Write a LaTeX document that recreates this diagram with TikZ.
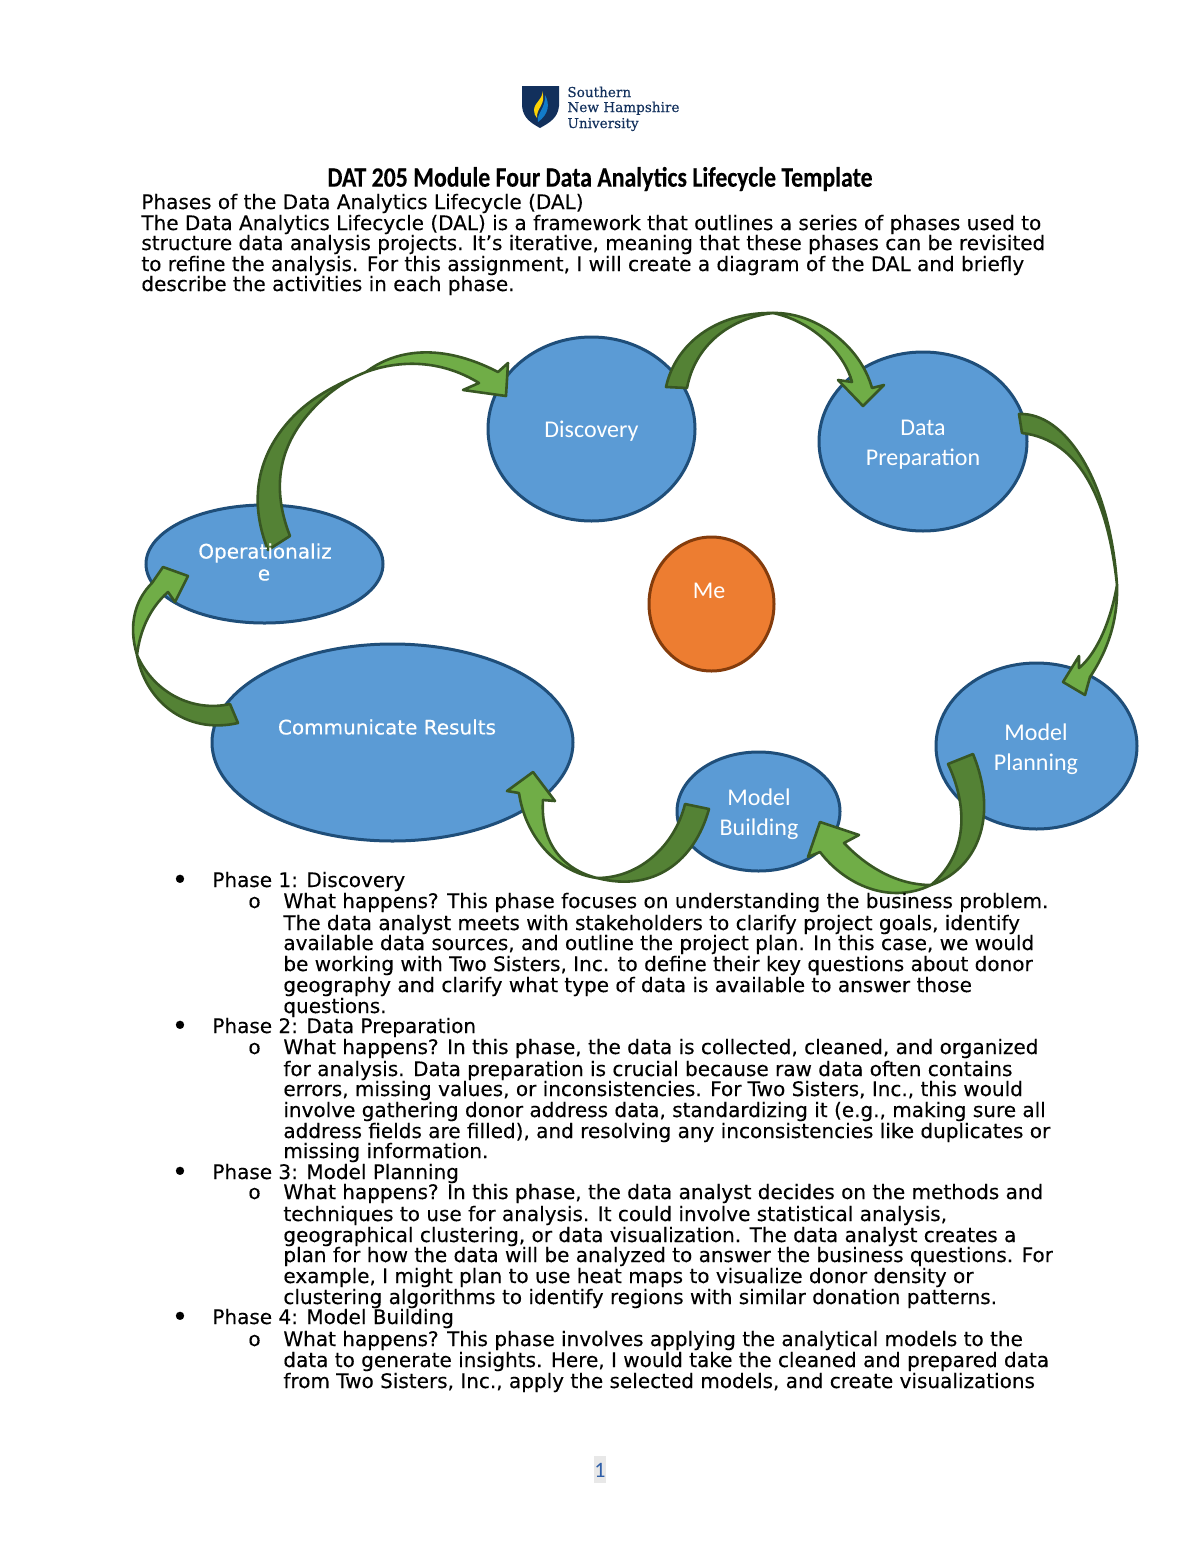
\documentclass[tikz,border=0pt]{standalone}
\usepackage{fontspec}
\setmainfont[FakeBold=0.25]{DejaVu Sans}
\newfontfamily\carlito{Carlito}
\newfontfamily\titlefont[FakeStretch=0.85,FakeBold=0.15]{Carlito Bold}
\newfontfamily\logofont[FakeBold=0.3]{DejaVu Serif}
\usetikzlibrary{shapes.geometric}

\definecolor{phaseblue}{HTML}{5B9BD5}
\definecolor{phaseedge}{HTML}{1F4E79}
\definecolor{meorange}{HTML}{ED7D31}
\definecolor{meedge}{HTML}{843C0C}
\definecolor{banddark}{HTML}{548235}
\definecolor{bandlight}{HTML}{70AD47}
\definecolor{bandedge}{HTML}{385723}
\definecolor{shieldnavy}{HTML}{12305C}
\definecolor{pagegray}{HTML}{E8E8E8}
\definecolor{pageblue}{HTML}{2F5FA8}

\tikzset{
  phase/.style={ellipse,draw=phaseedge,fill=phaseblue,line width=1.5pt,inner sep=0pt},
  dband/.style={draw=bandedge,fill=banddark,line width=1.3pt,line join=round},
  lband/.style={draw=bandedge,fill=bandlight,line width=1.3pt,line join=round},
  ltxt/.style={text=white,font=\carlito\fontsize{12}{12}\selectfont},
  wtxt/.style={text=white,font=\fontsize{10}{10}\selectfont},
  body/.style={anchor=base west,inner sep=0pt,font=\fontsize{10}{10}\selectfont},
  bullet/.style={inner sep=0pt,font=\fontsize{14}{14}\selectfont},
  logotxt/.style={anchor=base west,inner sep=0pt,text=shieldnavy,font=\logofont\fontsize{6.8}{6.8}\selectfont}
}

\begin{document}
\begin{tikzpicture}[x=0.5pt,y=-0.5pt]
\useasboundingbox (0,0) rectangle (1200,1553);

% logo
\fill[shieldnavy] (522,86) -- (559,86) -- (559,106) .. controls (558,118) and (549,123) .. (540,128) .. controls (531,123) and (523,118) .. (522,106) -- cycle;
\fill[yellow!70!orange] (542,91) .. controls (544,98) and (534,103) .. (534,110) .. controls (534,113) and (535,116) .. (537,118) .. controls (536,108) and (547,104) .. (542,91) -- cycle;
\fill[cyan!60!blue] (545,95) .. controls (550,104) and (549,114) .. (538,122) .. controls (536,114) and (546,108) .. (545,95) -- cycle;
\node[logotxt] (logoa) at (567,97) {Southern};
\node[logotxt] (logob) at (567,112) {New Hampshire};
\node[logotxt] (logoc) at (567,128) {University};

% phases
\node[phase,minimum width=103.5pt,minimum height=92pt] (disc) at (591.5,429) {};
\node[phase,minimum width=104pt,minimum height=89.5pt] (prep) at (923,441.5) {};
\node[phase,minimum width=100.5pt,minimum height=83pt] (plan) at (1036.5,746) {};
\node[phase,minimum width=81.5pt,minimum height=59.5pt] (build) at (758.5,811.5) {};
\node[phase,minimum width=180.5pt,minimum height=98.5pt] (comm) at (392.5,742.5) {};
\node[phase,minimum width=118.5pt,minimum height=59pt] (oper) at (264.5,564) {};
\node[phase,draw=meedge,fill=meorange,minimum width=62.5pt,minimum height=67pt] (me) at (711.5,604) {};

% Operationalize to Discovery
\filldraw[dband] (268,550) .. controls (248,500) and (258,455) .. (290,420) .. controls (310,398) and (335,385) .. (366,372) .. controls (345,380) and (325,395) .. (310,412) .. controls (285,440) and (268,480) .. (290,536) -- cycle;
\filldraw[lband] (366,372) .. controls (395,350) and (440,342) .. (498,372) -- (508,363) -- (506,396) -- (463,390) -- (479,383) .. controls (445,362) and (405,358) .. (366,372) -- cycle;
% Discovery to Data Preparation
\filldraw[dband] (666,387) .. controls (675,345) and (715,312) .. (773,313) .. controls (730,318) and (695,345) .. (687,388) -- cycle;
\filldraw[lband] (773,313) .. controls (815,312) and (860,345) .. (872,388) -- (884,385) -- (863,406) -- (838,380) -- (852,382) .. controls (845,355) and (815,322) .. (773,313) -- cycle;
% Data Preparation to Model Planning
\filldraw[dband] (1019,414) .. controls (1065,412) and (1110,480) .. (1117,585) .. controls (1108,500) and (1080,440) .. (1022,433) -- cycle;
\filldraw[lband] (1117,585) .. controls (1118,620) and (1108,650) .. (1090,677) -- (1085,695) -- (1063,682) -- (1079,656) -- (1079,668) .. controls (1095,655) and (1110,625) .. (1117,585) -- cycle;
% Model Planning to Model Building
\filldraw[dband] (948,764) .. controls (965,800) and (972,850) .. (931,885) .. controls (975,870) and (1000,820) .. (973,754) -- cycle;
\filldraw[lband] (931,885) .. controls (895,885) and (865,865) .. (844,843) -- (859,835) -- (820,822) -- (808,857) -- (820,852) .. controls (845,885) and (890,905) .. (931,885) -- cycle;
% Model Building to Communicate Results
\filldraw[dband] (685,804) .. controls (675,845) and (640,878) .. (597,878) .. controls (655,893) and (695,860) .. (709,809) -- cycle;
\filldraw[lband] (597,878) .. controls (565,870) and (540,845) .. (543,800) -- (555,801) -- (533,772) -- (507,791) -- (519,793) .. controls (525,835) and (555,872) .. (597,878) -- cycle;
% Communicate Results to Operationalize
\filldraw[dband] (230,704) .. controls (195,712) and (155,695) .. (137,655) .. controls (145,700) and (185,735) .. (238,723) -- cycle;
\filldraw[lband] (137,655) .. controls (128,625) and (135,600) .. (152,583) -- (163,567) -- (188,576) -- (175,602) -- (168,592) .. controls (150,608) and (140,630) .. (137,655) -- cycle;

% labels
\node[ltxt] (disctxt) at (591.5,431) {Discovery};
\node[ltxt] (preptxta) at (923,428) {Data};
\node[ltxt] (preptxtb) at (923,459) {Preparation};
\node[ltxt] (plantxta) at (1036,732) {Model};
\node[ltxt] (plantxtb) at (1036,764) {Planning};
\node[ltxt] (buildtxta) at (759,797) {Model};
\node[ltxt] (buildtxtb) at (759,829) {Building};
\node[ltxt] (metxt) at (709,591) {Me};
\node[wtxt] (commtxt) at (387,727) {Communicate Results};
\node[wtxt] (opertxta) at (265,553) {Operationaliz};
\node[wtxt] (opertxtb) at (264,575) {e};

% page text
\node[font=\titlefont\fontsize{14}{14}\selectfont] (title) at (600,179) {DAT 205 Module Four Data Analytics Lifecycle Template};
\node[body] (h1) at (141,209) {Phases of the Data Analytics Lifecycle (DAL)};
\node[body] (p1) at (141,230) {The Data Analytics Lifecycle (DAL) is a framework that outlines a series of phases used to};
\node[body] (p2) at (141,250) {structure data analysis projects. It’s iterative, meaning that these phases can be revisited};
\node[body] (p3) at (141,271) {to refine the analysis. For this assignment, I will create a diagram of the DAL and briefly};
\node[body] (p4) at (141,291) {describe the activities in each phase.};

\node[bullet] (ba) at (180,882) {•};
\node[body] (a0) at (212,887) {Phase 1: Discovery};
\node[body] (oa) at (248,908) {o};
\node[body] (a1) at (283,908) {What happens? This phase focuses on understanding the business problem.};
\node[body] (a2) at (283,930) {The data analyst meets with stakeholders to clarify project goals, identify};
\node[body] (a3) at (283,950) {available data sources, and outline the project plan. In this case, we would};
\node[body] (a4) at (283,971) {be working with Two Sisters, Inc. to define their key questions about donor};
\node[body] (a5) at (283,992) {geography and clarify what type of data is available to answer those};
\node[body] (a6) at (283,1013) {questions.};

\node[bullet] (bb) at (180,1028) {•};
\node[body] (b0) at (212,1033) {Phase 2: Data Preparation};
\node[body] (ob) at (248,1054) {o};
\node[body] (b1) at (283,1054) {What happens? In this phase, the data is collected, cleaned, and organized};
\node[body] (b2) at (283,1076) {for analysis. Data preparation is crucial because raw data often contains};
\node[body] (b3) at (283,1096) {errors, missing values, or inconsistencies. For Two Sisters, Inc., this would};
\node[body] (b4) at (283,1117) {involve gathering donor address data, standardizing it (e.g., making sure all};
\node[body] (b5) at (283,1138) {address fields are filled), and resolving any inconsistencies like duplicates or};
\node[body] (b6) at (283,1158) {missing information.};

\node[bullet] (bc) at (180,1174) {•};
\node[body] (c0) at (212,1179) {Phase 3: Model Planning};
\node[body] (oc) at (248,1199) {o};
\node[body] (c1) at (283,1199) {What happens? In this phase, the data analyst decides on the methods and};
\node[body] (c2) at (283,1221) {techniques to use for analysis. It could involve statistical analysis,};
\node[body] (c3) at (283,1242) {geographical clustering, or data visualization. The data analyst creates a};
\node[body] (c4) at (283,1262) {plan for how the data will be analyzed to answer the business questions. For};
\node[body] (c5) at (283,1283) {example, I might plan to use heat maps to visualize donor density or};
\node[body] (c6) at (283,1304) {clustering algorithms to identify regions with similar donation patterns.};

\node[bullet] (bd) at (180,1319) {•};
\node[body] (d0) at (212,1324) {Phase 4: Model Building};
\node[body] (od) at (248,1346) {o};
\node[body] (d1) at (283,1346) {What happens? This phase involves applying the analytical models to the};
\node[body] (d2) at (283,1367) {data to generate insights. Here, I would take the cleaned and prepared data};
\node[body] (d3) at (283,1388) {from Two Sisters, Inc., apply the selected models, and create visualizations};

% page number
\fill[pagegray] (594,1456) rectangle (606,1483);
\node[text=pageblue,font=\carlito\fontsize{11}{11}\selectfont] (pageno) at (600,1470) {1};

\end{tikzpicture}
\end{document}
